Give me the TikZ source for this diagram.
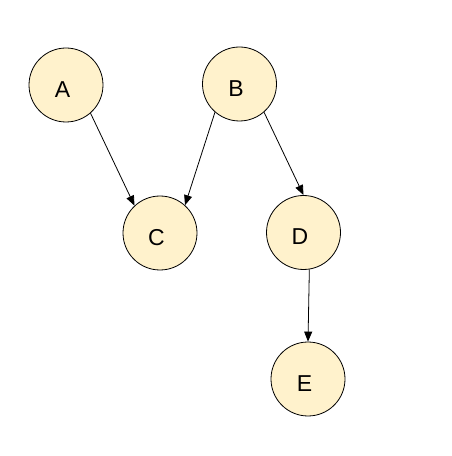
\documentclass[tikz,border=0pt]{standalone}
\usepackage{xcolor}
\usepackage{fontspec}
\setmainfont{Liberation Sans}
\usetikzlibrary{arrows.meta, positioning}

\definecolor{nodefill}{HTML}{FFF2CC}

\begin{document}
\begin{tikzpicture}[x=1pt,y=1pt]
        \useasboundingbox (0,0) rectangle (452,456);
        \begin{scope}[every node/.style={draw,circle,fill=nodefill,line width=0.8pt,minimum size=74pt,inner sep=0pt,text height=24.5pt,font=\fontsize{23}{28}\selectfont,execute at begin node=\hspace*{-7pt}}]
          \node (a) at (66,371) {A};
          \node (b) at (239.5,372) {B};
          \node (c) at (160,223) {C};
          \node (d) at (303.5,223.5) {D};
          \node (e) at (308,77) {E};
        \end{scope}
        \begin{scope}[every edge/.style={draw=black,line width=0.8pt,-{Triangle[length=10pt,width=8pt]}}]
          \path (a.-49) edge (c.133);
          \path (b.229) edge (c.48);
          \path (b.-49) edge (d.90);
          \path (d.-81) edge (e.north);
        \end{scope}
      \end{tikzpicture}
\end{document}
